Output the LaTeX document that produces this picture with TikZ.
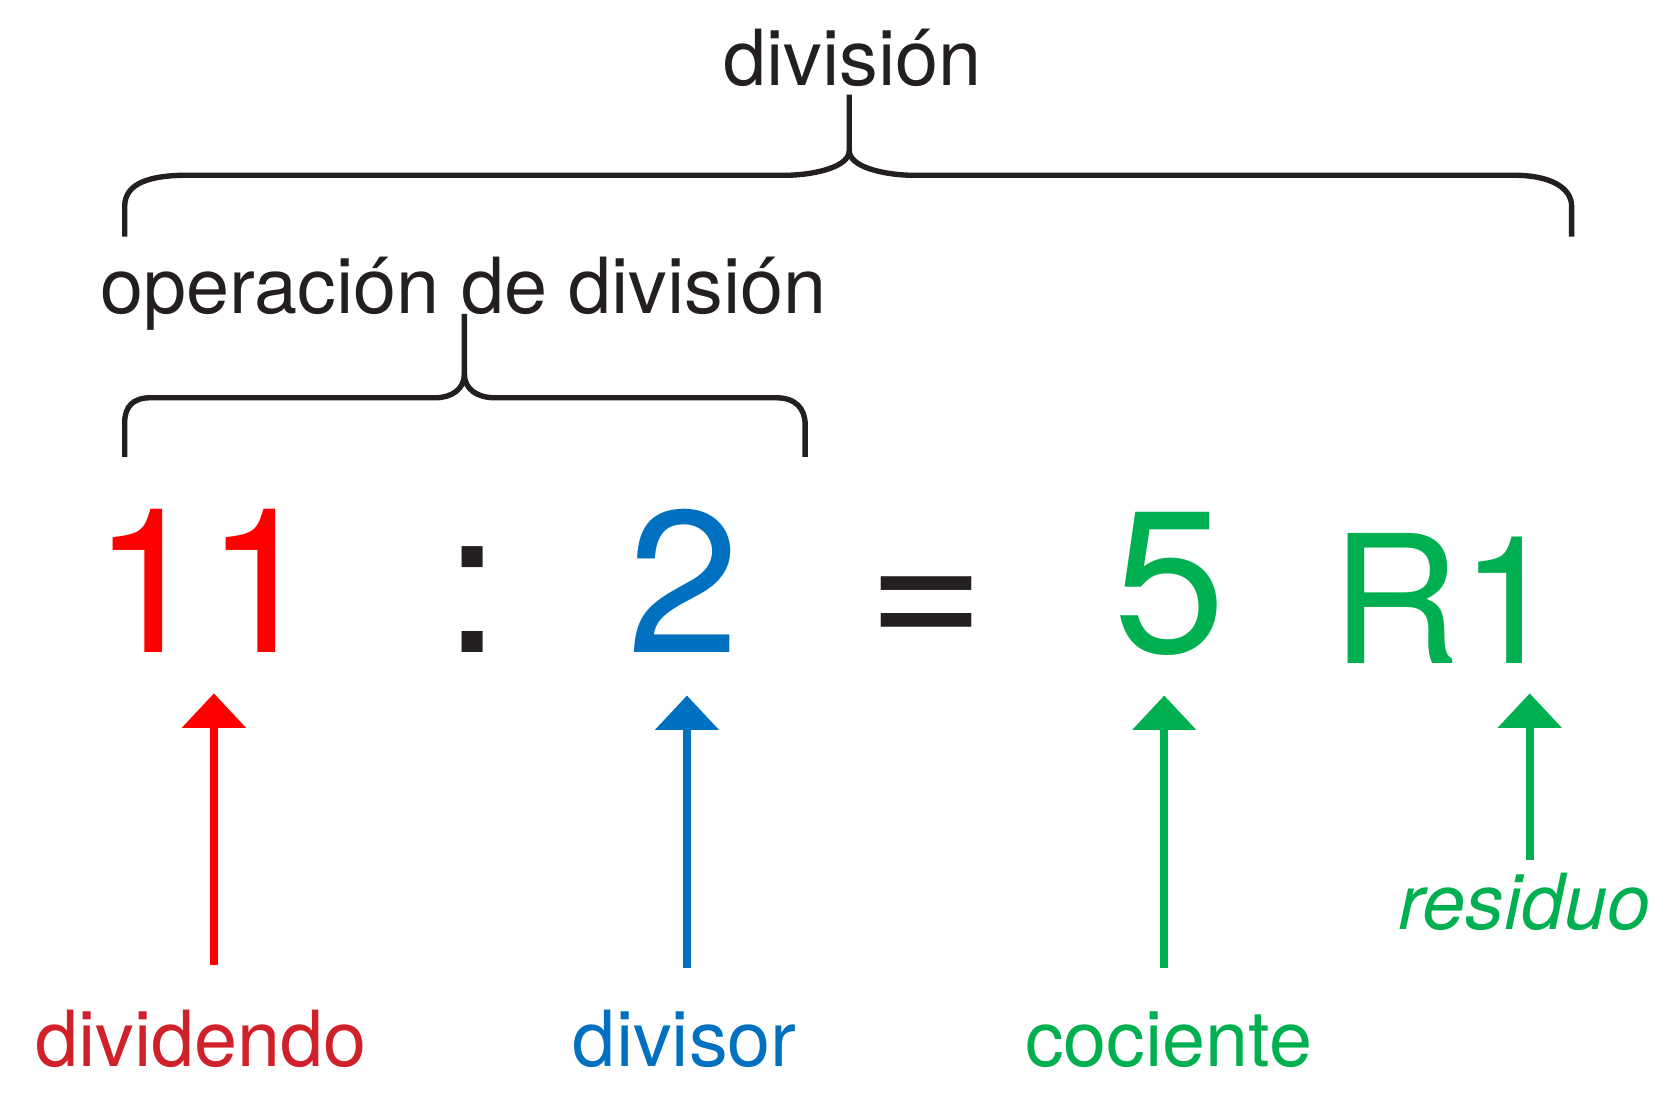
\documentclass[tikz,border=0pt]{standalone}
\usepackage{fontspec}
\setmainfont{TeX Gyre Heros}
\usetikzlibrary{arrows.meta}
\definecolor{cred}{HTML}{FF0000}
\definecolor{dred}{HTML}{D0202A}
\definecolor{cblue}{HTML}{0070C0}
\definecolor{cgreen}{HTML}{00B050}
\definecolor{cblack}{HTML}{231F20}
\begin{document}
\begin{tikzpicture}[x=1pt,y=-1pt,
  brace/.style={draw=cblack,line width=5pt},
  lbl/.style={inner sep=0pt,anchor=base,font=\fontsize{72}{80}\selectfont},
  big/.style={inner sep=0pt,anchor=base,font=\fontsize{188}{200}\selectfont},
  arr/.style={line width=7pt,-{Triangle[width=58pt,length=32pt]}}]
\useasboundingbox (0,0) rectangle (1560,1030);
% texts
\node[lbl,text=cblack] (div) at (793,80) {división};
\node[lbl,text=cblack] (op) at (431,292) {operación de división};
\node[big,text=cred] (n11) at (191,607) {11};
\node[big,text=cblack] (col) at (440,607) {:};
\node[big,text=cblue] (n2) at (636,607) {2};
\node[big,text=cblack] (eq) at (862,607) {=};
\node[big,text=cgreen] (n5) at (1088,607) {5};
\node[inner sep=0pt,anchor=base,font=\fontsize{166}{170}\selectfont,text=cgreen] (r1) at (1345,617) {R1};
\node[lbl,text=dred] (ldiv) at (187,992) {dividendo};
\node[lbl,text=cblue] (ldvs) at (637,992) {divisor};
\node[lbl,text=cgreen] (lcoc) at (1087,992) {cociente};
\node[lbl,text=cgreen,font=\fontsize{72}{80}\selectfont\itshape] (lres) at (1418,865) {residuo};
% braces
\draw[brace] (116,220) -- (116,192) .. controls (116,170) and (140,163) .. (175,163) -- (735,163)
  .. controls (760,162) and (790,155) .. (790,140) -- (790,88);
\draw[brace] (790,140) .. controls (790,155) and (820,162) .. (845,163) -- (1408,163)
  .. controls (1443,163) and (1462,175) .. (1462,192) -- (1462,220);
\draw[brace] (116,425) -- (116,393) .. controls (116,378) and (124,370) .. (140,370) -- (405,370)
  .. controls (420,370) and (432,362) .. (432,348) -- (432,292);
\draw[brace] (432,348) .. controls (432,362) and (444,370) .. (460,370) -- (722,370)
  .. controls (740,370) and (749,380) .. (749,395) -- (749,425);
% arrows
\coordinate (a1) at (199,898); \coordinate (b1) at (199,645);
\coordinate (a2) at (639,900); \coordinate (b2) at (639,647);
\coordinate (a3) at (1083,900); \coordinate (b3) at (1083,647);
\coordinate (a4) at (1423,800); \coordinate (b4) at (1423,645);
\draw[arr,cred] (a1) -- (b1);
\draw[arr,cblue] (a2) -- (b2);
\draw[arr,cgreen] (a3) -- (b3);
\draw[arr,cgreen] (a4) -- (b4);
\end{tikzpicture}
\end{document}
